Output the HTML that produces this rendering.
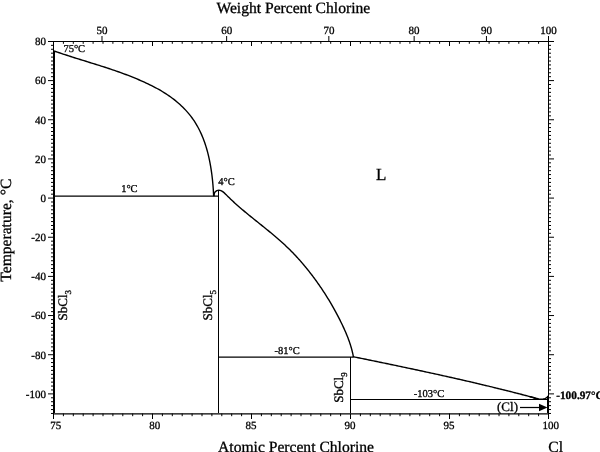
<!DOCTYPE html>
<html><head><meta charset="utf-8"><style>
html,body{margin:0;padding:0;background:#fff;}
svg{display:block;} text{text-rendering:geometricPrecision;}
</style></head><body>
<svg width="600" height="452" viewBox="0 0 600 452">
<rect width="600" height="452" fill="#fff"/>
<g stroke="#000" stroke-width="1" shape-rendering="crispEdges" fill="none">
<line x1="53" y1="41.5" x2="549" y2="41.5"/>
<line x1="53.5" y1="41" x2="53.5" y2="414"/>
<line x1="548.5" y1="41" x2="548.5" y2="414"/>
<line x1="54.5" y1="51" x2="54.5" y2="413"/>
<line x1="547.5" y1="396" x2="547.5" y2="413"/>
<line x1="218.5" y1="190" x2="218.5" y2="413"/>
<line x1="350.5" y1="357" x2="350.5" y2="413"/>
<line x1="351" y1="399.5" x2="548" y2="399.5"/>
</g>
<g stroke="#000" stroke-width="1" fill="none">
<line x1="53.5" y1="413.5" x2="53.5" y2="419"/>
<line x1="63.4" y1="413.5" x2="63.4" y2="416.2"/>
<line x1="63.4" y1="41.5" x2="63.4" y2="43.8"/>
<line x1="73.3" y1="413.5" x2="73.3" y2="416.2"/>
<line x1="73.3" y1="41.5" x2="73.3" y2="43.8"/>
<line x1="83.2" y1="413.5" x2="83.2" y2="416.2"/>
<line x1="83.2" y1="41.5" x2="83.2" y2="43.8"/>
<line x1="93.1" y1="413.5" x2="93.1" y2="416.2"/>
<line x1="93.1" y1="41.5" x2="93.1" y2="43.8"/>
<line x1="103.0" y1="413.5" x2="103.0" y2="416.2"/>
<line x1="103.0" y1="41.5" x2="103.0" y2="43.8"/>
<line x1="112.9" y1="413.5" x2="112.9" y2="416.2"/>
<line x1="112.9" y1="41.5" x2="112.9" y2="43.8"/>
<line x1="122.8" y1="413.5" x2="122.8" y2="416.2"/>
<line x1="122.8" y1="41.5" x2="122.8" y2="43.8"/>
<line x1="132.7" y1="413.5" x2="132.7" y2="416.2"/>
<line x1="132.7" y1="41.5" x2="132.7" y2="43.8"/>
<line x1="142.6" y1="413.5" x2="142.6" y2="416.2"/>
<line x1="142.6" y1="41.5" x2="142.6" y2="43.8"/>
<line x1="152.5" y1="413.5" x2="152.5" y2="419"/>
<line x1="152.5" y1="41.5" x2="152.5" y2="46"/>
<line x1="162.4" y1="413.5" x2="162.4" y2="416.2"/>
<line x1="162.4" y1="41.5" x2="162.4" y2="43.8"/>
<line x1="172.3" y1="413.5" x2="172.3" y2="416.2"/>
<line x1="172.3" y1="41.5" x2="172.3" y2="43.8"/>
<line x1="182.2" y1="413.5" x2="182.2" y2="416.2"/>
<line x1="182.2" y1="41.5" x2="182.2" y2="43.8"/>
<line x1="192.1" y1="413.5" x2="192.1" y2="416.2"/>
<line x1="192.1" y1="41.5" x2="192.1" y2="43.8"/>
<line x1="202.0" y1="413.5" x2="202.0" y2="416.2"/>
<line x1="202.0" y1="41.5" x2="202.0" y2="43.8"/>
<line x1="211.9" y1="413.5" x2="211.9" y2="416.2"/>
<line x1="211.9" y1="41.5" x2="211.9" y2="43.8"/>
<line x1="221.8" y1="413.5" x2="221.8" y2="416.2"/>
<line x1="221.8" y1="41.5" x2="221.8" y2="43.8"/>
<line x1="231.7" y1="413.5" x2="231.7" y2="416.2"/>
<line x1="231.7" y1="41.5" x2="231.7" y2="43.8"/>
<line x1="241.6" y1="413.5" x2="241.6" y2="416.2"/>
<line x1="241.6" y1="41.5" x2="241.6" y2="43.8"/>
<line x1="251.5" y1="413.5" x2="251.5" y2="419"/>
<line x1="251.5" y1="41.5" x2="251.5" y2="46"/>
<line x1="261.4" y1="413.5" x2="261.4" y2="416.2"/>
<line x1="261.4" y1="41.5" x2="261.4" y2="43.8"/>
<line x1="271.3" y1="413.5" x2="271.3" y2="416.2"/>
<line x1="271.3" y1="41.5" x2="271.3" y2="43.8"/>
<line x1="281.2" y1="413.5" x2="281.2" y2="416.2"/>
<line x1="281.2" y1="41.5" x2="281.2" y2="43.8"/>
<line x1="291.1" y1="413.5" x2="291.1" y2="416.2"/>
<line x1="291.1" y1="41.5" x2="291.1" y2="43.8"/>
<line x1="301.0" y1="413.5" x2="301.0" y2="416.2"/>
<line x1="301.0" y1="41.5" x2="301.0" y2="43.8"/>
<line x1="310.9" y1="413.5" x2="310.9" y2="416.2"/>
<line x1="310.9" y1="41.5" x2="310.9" y2="43.8"/>
<line x1="320.8" y1="413.5" x2="320.8" y2="416.2"/>
<line x1="320.8" y1="41.5" x2="320.8" y2="43.8"/>
<line x1="330.7" y1="413.5" x2="330.7" y2="416.2"/>
<line x1="330.7" y1="41.5" x2="330.7" y2="43.8"/>
<line x1="340.6" y1="413.5" x2="340.6" y2="416.2"/>
<line x1="340.6" y1="41.5" x2="340.6" y2="43.8"/>
<line x1="350.5" y1="413.5" x2="350.5" y2="419"/>
<line x1="350.5" y1="41.5" x2="350.5" y2="46"/>
<line x1="360.4" y1="413.5" x2="360.4" y2="416.2"/>
<line x1="360.4" y1="41.5" x2="360.4" y2="43.8"/>
<line x1="370.3" y1="413.5" x2="370.3" y2="416.2"/>
<line x1="370.3" y1="41.5" x2="370.3" y2="43.8"/>
<line x1="380.2" y1="413.5" x2="380.2" y2="416.2"/>
<line x1="380.2" y1="41.5" x2="380.2" y2="43.8"/>
<line x1="390.1" y1="413.5" x2="390.1" y2="416.2"/>
<line x1="390.1" y1="41.5" x2="390.1" y2="43.8"/>
<line x1="400.0" y1="413.5" x2="400.0" y2="416.2"/>
<line x1="400.0" y1="41.5" x2="400.0" y2="43.8"/>
<line x1="409.9" y1="413.5" x2="409.9" y2="416.2"/>
<line x1="409.9" y1="41.5" x2="409.9" y2="43.8"/>
<line x1="419.8" y1="413.5" x2="419.8" y2="416.2"/>
<line x1="419.8" y1="41.5" x2="419.8" y2="43.8"/>
<line x1="429.7" y1="413.5" x2="429.7" y2="416.2"/>
<line x1="429.7" y1="41.5" x2="429.7" y2="43.8"/>
<line x1="439.6" y1="413.5" x2="439.6" y2="416.2"/>
<line x1="439.6" y1="41.5" x2="439.6" y2="43.8"/>
<line x1="449.5" y1="413.5" x2="449.5" y2="419"/>
<line x1="449.5" y1="41.5" x2="449.5" y2="46"/>
<line x1="459.4" y1="413.5" x2="459.4" y2="416.2"/>
<line x1="459.4" y1="41.5" x2="459.4" y2="43.8"/>
<line x1="469.3" y1="413.5" x2="469.3" y2="416.2"/>
<line x1="469.3" y1="41.5" x2="469.3" y2="43.8"/>
<line x1="479.2" y1="413.5" x2="479.2" y2="416.2"/>
<line x1="479.2" y1="41.5" x2="479.2" y2="43.8"/>
<line x1="489.1" y1="413.5" x2="489.1" y2="416.2"/>
<line x1="489.1" y1="41.5" x2="489.1" y2="43.8"/>
<line x1="499.0" y1="413.5" x2="499.0" y2="416.2"/>
<line x1="499.0" y1="41.5" x2="499.0" y2="43.8"/>
<line x1="508.9" y1="413.5" x2="508.9" y2="416.2"/>
<line x1="508.9" y1="41.5" x2="508.9" y2="43.8"/>
<line x1="518.8" y1="413.5" x2="518.8" y2="416.2"/>
<line x1="518.8" y1="41.5" x2="518.8" y2="43.8"/>
<line x1="528.7" y1="413.5" x2="528.7" y2="416.2"/>
<line x1="528.7" y1="41.5" x2="528.7" y2="43.8"/>
<line x1="538.6" y1="413.5" x2="538.6" y2="416.2"/>
<line x1="538.6" y1="41.5" x2="538.6" y2="43.8"/>
<line x1="548.5" y1="413.5" x2="548.5" y2="419"/>
<line x1="101.99150515542635" y1="41.5" x2="101.99150515542635" y2="36"/>
<line x1="226.6329983080612" y1="41.5" x2="226.6329983080612" y2="36"/>
<line x1="328.8322905790152" y1="41.5" x2="328.8322905790152" y2="36"/>
<line x1="414.14998956923824" y1="41.5" x2="414.14998956923824" y2="36"/>
<line x1="486.4498149462606" y1="41.5" x2="486.4498149462606" y2="36"/>
<line x1="548.5000000000002" y1="41.5" x2="548.5000000000002" y2="36"/>
<line x1="53.5" y1="413.46" x2="51" y2="413.46"/>
<line x1="548.5" y1="413.46" x2="551" y2="413.46"/>
<line x1="53.5" y1="409.544" x2="51" y2="409.544"/>
<line x1="548.5" y1="409.544" x2="551" y2="409.544"/>
<line x1="53.5" y1="405.628" x2="51" y2="405.628"/>
<line x1="548.5" y1="405.628" x2="551" y2="405.628"/>
<line x1="53.5" y1="401.712" x2="51" y2="401.712"/>
<line x1="548.5" y1="401.712" x2="551" y2="401.712"/>
<line x1="53.5" y1="397.796" x2="51" y2="397.796"/>
<line x1="548.5" y1="397.796" x2="551" y2="397.796"/>
<line x1="53.5" y1="393.88" x2="48" y2="393.88"/>
<line x1="548.5" y1="393.88" x2="554" y2="393.88"/>
<line x1="53.5" y1="389.964" x2="51" y2="389.964"/>
<line x1="548.5" y1="389.964" x2="551" y2="389.964"/>
<line x1="53.5" y1="386.048" x2="51" y2="386.048"/>
<line x1="548.5" y1="386.048" x2="551" y2="386.048"/>
<line x1="53.5" y1="382.132" x2="51" y2="382.132"/>
<line x1="548.5" y1="382.132" x2="551" y2="382.132"/>
<line x1="53.5" y1="378.216" x2="51" y2="378.216"/>
<line x1="548.5" y1="378.216" x2="551" y2="378.216"/>
<line x1="53.5" y1="374.3" x2="51" y2="374.3"/>
<line x1="548.5" y1="374.3" x2="551" y2="374.3"/>
<line x1="53.5" y1="370.384" x2="51" y2="370.384"/>
<line x1="548.5" y1="370.384" x2="551" y2="370.384"/>
<line x1="53.5" y1="366.468" x2="51" y2="366.468"/>
<line x1="548.5" y1="366.468" x2="551" y2="366.468"/>
<line x1="53.5" y1="362.55199999999996" x2="51" y2="362.55199999999996"/>
<line x1="548.5" y1="362.55199999999996" x2="551" y2="362.55199999999996"/>
<line x1="53.5" y1="358.63599999999997" x2="51" y2="358.63599999999997"/>
<line x1="548.5" y1="358.63599999999997" x2="551" y2="358.63599999999997"/>
<line x1="53.5" y1="354.71999999999997" x2="48" y2="354.71999999999997"/>
<line x1="548.5" y1="354.71999999999997" x2="554" y2="354.71999999999997"/>
<line x1="53.5" y1="350.804" x2="51" y2="350.804"/>
<line x1="548.5" y1="350.804" x2="551" y2="350.804"/>
<line x1="53.5" y1="346.888" x2="51" y2="346.888"/>
<line x1="548.5" y1="346.888" x2="551" y2="346.888"/>
<line x1="53.5" y1="342.972" x2="51" y2="342.972"/>
<line x1="548.5" y1="342.972" x2="551" y2="342.972"/>
<line x1="53.5" y1="339.056" x2="51" y2="339.056"/>
<line x1="548.5" y1="339.056" x2="551" y2="339.056"/>
<line x1="53.5" y1="335.14" x2="51" y2="335.14"/>
<line x1="548.5" y1="335.14" x2="551" y2="335.14"/>
<line x1="53.5" y1="331.224" x2="51" y2="331.224"/>
<line x1="548.5" y1="331.224" x2="551" y2="331.224"/>
<line x1="53.5" y1="327.308" x2="51" y2="327.308"/>
<line x1="548.5" y1="327.308" x2="551" y2="327.308"/>
<line x1="53.5" y1="323.392" x2="51" y2="323.392"/>
<line x1="548.5" y1="323.392" x2="551" y2="323.392"/>
<line x1="53.5" y1="319.476" x2="51" y2="319.476"/>
<line x1="548.5" y1="319.476" x2="551" y2="319.476"/>
<line x1="53.5" y1="315.56" x2="48" y2="315.56"/>
<line x1="548.5" y1="315.56" x2="554" y2="315.56"/>
<line x1="53.5" y1="311.644" x2="51" y2="311.644"/>
<line x1="548.5" y1="311.644" x2="551" y2="311.644"/>
<line x1="53.5" y1="307.728" x2="51" y2="307.728"/>
<line x1="548.5" y1="307.728" x2="551" y2="307.728"/>
<line x1="53.5" y1="303.812" x2="51" y2="303.812"/>
<line x1="548.5" y1="303.812" x2="551" y2="303.812"/>
<line x1="53.5" y1="299.896" x2="51" y2="299.896"/>
<line x1="548.5" y1="299.896" x2="551" y2="299.896"/>
<line x1="53.5" y1="295.98" x2="51" y2="295.98"/>
<line x1="548.5" y1="295.98" x2="551" y2="295.98"/>
<line x1="53.5" y1="292.06399999999996" x2="51" y2="292.06399999999996"/>
<line x1="548.5" y1="292.06399999999996" x2="551" y2="292.06399999999996"/>
<line x1="53.5" y1="288.148" x2="51" y2="288.148"/>
<line x1="548.5" y1="288.148" x2="551" y2="288.148"/>
<line x1="53.5" y1="284.23199999999997" x2="51" y2="284.23199999999997"/>
<line x1="548.5" y1="284.23199999999997" x2="551" y2="284.23199999999997"/>
<line x1="53.5" y1="280.31600000000003" x2="51" y2="280.31600000000003"/>
<line x1="548.5" y1="280.31600000000003" x2="551" y2="280.31600000000003"/>
<line x1="53.5" y1="276.4" x2="48" y2="276.4"/>
<line x1="548.5" y1="276.4" x2="554" y2="276.4"/>
<line x1="53.5" y1="272.484" x2="51" y2="272.484"/>
<line x1="548.5" y1="272.484" x2="551" y2="272.484"/>
<line x1="53.5" y1="268.568" x2="51" y2="268.568"/>
<line x1="548.5" y1="268.568" x2="551" y2="268.568"/>
<line x1="53.5" y1="264.652" x2="51" y2="264.652"/>
<line x1="548.5" y1="264.652" x2="551" y2="264.652"/>
<line x1="53.5" y1="260.736" x2="51" y2="260.736"/>
<line x1="548.5" y1="260.736" x2="551" y2="260.736"/>
<line x1="53.5" y1="256.82" x2="51" y2="256.82"/>
<line x1="548.5" y1="256.82" x2="551" y2="256.82"/>
<line x1="53.5" y1="252.904" x2="51" y2="252.904"/>
<line x1="548.5" y1="252.904" x2="551" y2="252.904"/>
<line x1="53.5" y1="248.988" x2="51" y2="248.988"/>
<line x1="548.5" y1="248.988" x2="551" y2="248.988"/>
<line x1="53.5" y1="245.072" x2="51" y2="245.072"/>
<line x1="548.5" y1="245.072" x2="551" y2="245.072"/>
<line x1="53.5" y1="241.156" x2="51" y2="241.156"/>
<line x1="548.5" y1="241.156" x2="551" y2="241.156"/>
<line x1="53.5" y1="237.23999999999998" x2="48" y2="237.23999999999998"/>
<line x1="548.5" y1="237.23999999999998" x2="554" y2="237.23999999999998"/>
<line x1="53.5" y1="233.32399999999998" x2="51" y2="233.32399999999998"/>
<line x1="548.5" y1="233.32399999999998" x2="551" y2="233.32399999999998"/>
<line x1="53.5" y1="229.408" x2="51" y2="229.408"/>
<line x1="548.5" y1="229.408" x2="551" y2="229.408"/>
<line x1="53.5" y1="225.492" x2="51" y2="225.492"/>
<line x1="548.5" y1="225.492" x2="551" y2="225.492"/>
<line x1="53.5" y1="221.576" x2="51" y2="221.576"/>
<line x1="548.5" y1="221.576" x2="551" y2="221.576"/>
<line x1="53.5" y1="217.66" x2="51" y2="217.66"/>
<line x1="548.5" y1="217.66" x2="551" y2="217.66"/>
<line x1="53.5" y1="213.744" x2="51" y2="213.744"/>
<line x1="548.5" y1="213.744" x2="551" y2="213.744"/>
<line x1="53.5" y1="209.828" x2="51" y2="209.828"/>
<line x1="548.5" y1="209.828" x2="551" y2="209.828"/>
<line x1="53.5" y1="205.912" x2="51" y2="205.912"/>
<line x1="548.5" y1="205.912" x2="551" y2="205.912"/>
<line x1="53.5" y1="201.99599999999998" x2="51" y2="201.99599999999998"/>
<line x1="548.5" y1="201.99599999999998" x2="551" y2="201.99599999999998"/>
<line x1="53.5" y1="198.07999999999998" x2="48" y2="198.07999999999998"/>
<line x1="548.5" y1="198.07999999999998" x2="554" y2="198.07999999999998"/>
<line x1="53.5" y1="194.164" x2="51" y2="194.164"/>
<line x1="548.5" y1="194.164" x2="551" y2="194.164"/>
<line x1="53.5" y1="190.248" x2="51" y2="190.248"/>
<line x1="548.5" y1="190.248" x2="551" y2="190.248"/>
<line x1="53.5" y1="186.332" x2="51" y2="186.332"/>
<line x1="548.5" y1="186.332" x2="551" y2="186.332"/>
<line x1="53.5" y1="182.416" x2="51" y2="182.416"/>
<line x1="548.5" y1="182.416" x2="551" y2="182.416"/>
<line x1="53.5" y1="178.5" x2="51" y2="178.5"/>
<line x1="548.5" y1="178.5" x2="551" y2="178.5"/>
<line x1="53.5" y1="174.584" x2="51" y2="174.584"/>
<line x1="548.5" y1="174.584" x2="551" y2="174.584"/>
<line x1="53.5" y1="170.668" x2="51" y2="170.668"/>
<line x1="548.5" y1="170.668" x2="551" y2="170.668"/>
<line x1="53.5" y1="166.752" x2="51" y2="166.752"/>
<line x1="548.5" y1="166.752" x2="551" y2="166.752"/>
<line x1="53.5" y1="162.836" x2="51" y2="162.836"/>
<line x1="548.5" y1="162.836" x2="551" y2="162.836"/>
<line x1="53.5" y1="158.92000000000002" x2="48" y2="158.92000000000002"/>
<line x1="548.5" y1="158.92000000000002" x2="554" y2="158.92000000000002"/>
<line x1="53.5" y1="155.004" x2="51" y2="155.004"/>
<line x1="548.5" y1="155.004" x2="551" y2="155.004"/>
<line x1="53.5" y1="151.088" x2="51" y2="151.088"/>
<line x1="548.5" y1="151.088" x2="551" y2="151.088"/>
<line x1="53.5" y1="147.172" x2="51" y2="147.172"/>
<line x1="548.5" y1="147.172" x2="551" y2="147.172"/>
<line x1="53.5" y1="143.256" x2="51" y2="143.256"/>
<line x1="548.5" y1="143.256" x2="551" y2="143.256"/>
<line x1="53.5" y1="139.33999999999997" x2="51" y2="139.33999999999997"/>
<line x1="548.5" y1="139.33999999999997" x2="551" y2="139.33999999999997"/>
<line x1="53.5" y1="135.42399999999998" x2="51" y2="135.42399999999998"/>
<line x1="548.5" y1="135.42399999999998" x2="551" y2="135.42399999999998"/>
<line x1="53.5" y1="131.50799999999998" x2="51" y2="131.50799999999998"/>
<line x1="548.5" y1="131.50799999999998" x2="551" y2="131.50799999999998"/>
<line x1="53.5" y1="127.592" x2="51" y2="127.592"/>
<line x1="548.5" y1="127.592" x2="551" y2="127.592"/>
<line x1="53.5" y1="123.676" x2="51" y2="123.676"/>
<line x1="548.5" y1="123.676" x2="551" y2="123.676"/>
<line x1="53.5" y1="119.75999999999999" x2="48" y2="119.75999999999999"/>
<line x1="548.5" y1="119.75999999999999" x2="554" y2="119.75999999999999"/>
<line x1="53.5" y1="115.844" x2="51" y2="115.844"/>
<line x1="548.5" y1="115.844" x2="551" y2="115.844"/>
<line x1="53.5" y1="111.928" x2="51" y2="111.928"/>
<line x1="548.5" y1="111.928" x2="551" y2="111.928"/>
<line x1="53.5" y1="108.012" x2="51" y2="108.012"/>
<line x1="548.5" y1="108.012" x2="551" y2="108.012"/>
<line x1="53.5" y1="104.096" x2="51" y2="104.096"/>
<line x1="548.5" y1="104.096" x2="551" y2="104.096"/>
<line x1="53.5" y1="100.18" x2="51" y2="100.18"/>
<line x1="548.5" y1="100.18" x2="551" y2="100.18"/>
<line x1="53.5" y1="96.264" x2="51" y2="96.264"/>
<line x1="548.5" y1="96.264" x2="551" y2="96.264"/>
<line x1="53.5" y1="92.348" x2="51" y2="92.348"/>
<line x1="548.5" y1="92.348" x2="551" y2="92.348"/>
<line x1="53.5" y1="88.43199999999999" x2="51" y2="88.43199999999999"/>
<line x1="548.5" y1="88.43199999999999" x2="551" y2="88.43199999999999"/>
<line x1="53.5" y1="84.51599999999999" x2="51" y2="84.51599999999999"/>
<line x1="548.5" y1="84.51599999999999" x2="551" y2="84.51599999999999"/>
<line x1="53.5" y1="80.6" x2="48" y2="80.6"/>
<line x1="548.5" y1="80.6" x2="554" y2="80.6"/>
<line x1="53.5" y1="76.684" x2="51" y2="76.684"/>
<line x1="548.5" y1="76.684" x2="551" y2="76.684"/>
<line x1="53.5" y1="72.768" x2="51" y2="72.768"/>
<line x1="548.5" y1="72.768" x2="551" y2="72.768"/>
<line x1="53.5" y1="68.852" x2="51" y2="68.852"/>
<line x1="548.5" y1="68.852" x2="551" y2="68.852"/>
<line x1="53.5" y1="64.93599999999999" x2="51" y2="64.93599999999999"/>
<line x1="548.5" y1="64.93599999999999" x2="551" y2="64.93599999999999"/>
<line x1="53.5" y1="61.019999999999996" x2="51" y2="61.019999999999996"/>
<line x1="548.5" y1="61.019999999999996" x2="551" y2="61.019999999999996"/>
<line x1="53.5" y1="57.104" x2="51" y2="57.104"/>
<line x1="548.5" y1="57.104" x2="551" y2="57.104"/>
<line x1="53.5" y1="53.187999999999995" x2="51" y2="53.187999999999995"/>
<line x1="548.5" y1="53.187999999999995" x2="551" y2="53.187999999999995"/>
<line x1="53.5" y1="49.272" x2="51" y2="49.272"/>
<line x1="548.5" y1="49.272" x2="551" y2="49.272"/>
<line x1="53.5" y1="45.355999999999995" x2="51" y2="45.355999999999995"/>
<line x1="548.5" y1="45.355999999999995" x2="551" y2="45.355999999999995"/>
<line x1="53" y1="41.5" x2="48" y2="41.5"/>
<line x1="549" y1="41.5" x2="554" y2="41.5"/>
</g>
<g stroke="#000" stroke-width="1.25" fill="none">
<line x1="53" y1="413.8" x2="549" y2="413.8"/>
<line x1="54" y1="196.0" x2="218" y2="196.0"/>
<line x1="219" y1="357.0" x2="353" y2="357.0"/>
<line x1="520" y1="407.5" x2="540" y2="407.5"/>
</g>
<g stroke="#000" stroke-width="1.4" fill="none" stroke-linejoin="round" stroke-linecap="round">
<path d="M53.60,50.81 L55.48,51.47 L57.37,52.12 L59.27,52.77 L61.16,53.41 L63.05,54.04 L64.95,54.66 L66.85,55.28 L68.75,55.89 L70.66,56.50 L72.56,57.11 L74.46,57.71 L76.37,58.31 L78.28,58.91 L80.18,59.50 L82.09,60.09 L84.00,60.69 L85.91,61.28 L87.82,61.87 L89.73,62.46 L91.63,63.06 L93.54,63.65 L95.45,64.25 L97.36,64.85 L99.26,65.45 L101.17,66.06 L103.07,66.67 L104.97,67.29 L106.88,67.91 L108.78,68.53 L110.67,69.17 L112.57,69.81 L114.46,70.45 L116.35,71.11 L118.24,71.77 L120.13,72.44 L122.02,73.12 L123.90,73.81 L125.77,74.51 L127.65,75.22 L129.52,75.94 L131.39,76.68 L133.26,77.42 L135.12,78.18 L136.98,78.96 L138.83,79.74 L140.68,80.54 L142.52,81.36 L144.36,82.19 L146.20,83.03 L148.03,83.90 L149.85,84.78 L151.66,85.68 L153.46,86.60 L155.25,87.54 L157.03,88.50 L158.80,89.48 L160.55,90.48 L162.28,91.51 L164.00,92.56 L165.70,93.63 L167.38,94.73 L169.05,95.86 L170.68,97.02 L172.30,98.20 L173.89,99.41 L175.46,100.65 L177.01,101.92 L178.52,103.22 L180.01,104.54 L181.47,105.90 L182.89,107.28 L184.29,108.69 L185.65,110.13 L186.98,111.60 L188.28,113.10 L189.54,114.62 L190.76,116.17 L191.95,117.75 L193.09,119.35 L194.20,120.98 L195.26,122.64 L196.29,124.32 L197.28,126.03 L198.23,127.76 L199.14,129.51 L200.02,131.29 L200.87,133.08 L201.68,134.89 L202.45,136.72 L203.20,138.57 L203.91,140.44 L204.59,142.32 L205.23,144.22 L205.85,146.13 L206.44,148.05 L207.00,149.98 L207.53,151.93 L208.04,153.89 L208.52,155.85 L208.97,157.82 L209.40,159.80 L209.80,161.79 L210.18,163.78 L210.54,165.77 L210.87,167.77 L211.19,169.77 L211.48,171.78 L211.75,173.78 L212.01,175.78 L212.24,177.78 L212.46,179.78 L212.66,181.78 L212.84,183.77 L213.01,185.76 L213.16,187.74 L213.30,189.71 L213.42,191.68 L213.53,193.63 L213.63,195.58"/>
<path d="M214.13,195.67 L214.11,194.33 L214.43,193.13 L215.03,192.10 L215.84,191.28 L216.81,190.70 L217.86,190.37 L218.92,190.26 L219.93,190.37 L220.90,190.65 L221.84,191.10 L222.75,191.67 L223.63,192.35 L224.50,193.12 L225.35,193.93 L226.20,194.78 L227.04,195.63 L227.88,196.47 L228.73,197.30 L229.58,198.12 L230.42,198.94 L231.27,199.74 L232.12,200.55 L232.97,201.34 L233.83,202.12 L234.68,202.90 L235.53,203.68 L236.39,204.44 L237.24,205.21 L238.10,205.96 L238.96,206.71 L239.82,207.46 L240.68,208.20 L241.54,208.94 L242.40,209.67 L243.27,210.40 L244.13,211.13 L245.00,211.85 L245.87,212.57 L246.74,213.29 L247.61,214.01 L248.48,214.72 L249.36,215.43 L250.23,216.14 L251.11,216.85 L251.99,217.56 L252.87,218.27 L253.75,218.98 L254.63,219.69 L255.51,220.40 L256.40,221.11 L257.28,221.82 L258.17,222.53 L259.06,223.24 L259.94,223.95 L260.83,224.66 L261.72,225.37 L262.61,226.09 L263.50,226.80 L264.39,227.52 L265.27,228.24 L266.16,228.96 L267.05,229.68 L267.93,230.40 L268.82,231.12 L269.70,231.85 L270.58,232.58 L271.46,233.31 L272.34,234.04 L273.22,234.77 L274.10,235.51 L274.97,236.25 L275.84,236.99 L276.71,237.74 L277.58,238.48 L278.44,239.23 L279.30,239.99 L280.16,240.75 L281.01,241.51 L281.86,242.27 L282.71,243.04 L283.56,243.81 L284.40,244.58 L285.24,245.36 L286.07,246.14 L286.90,246.93 L287.72,247.72 L288.54,248.51 L289.36,249.31 L290.17,250.11 L290.98,250.92 L291.78,251.73 L292.58,252.54 L293.37,253.36 L294.16,254.18 L294.95,255.01 L295.73,255.84 L296.50,256.68 L297.27,257.51 L298.04,258.36 L298.81,259.20 L299.57,260.05 L300.32,260.91 L301.07,261.76 L301.82,262.62 L302.56,263.49 L303.30,264.35 L304.04,265.22 L304.77,266.10 L305.49,266.98 L306.22,267.86 L306.94,268.74 L307.65,269.63 L308.36,270.52 L309.07,271.41 L309.77,272.31 L310.47,273.21 L311.17,274.11 L311.86,275.01 L312.55,275.92 L313.23,276.83 L313.91,277.75 L314.59,278.66 L315.26,279.58 L315.93,280.51 L316.60,281.43 L317.26,282.36 L317.92,283.29 L318.58,284.22 L319.23,285.16 L319.88,286.09 L320.52,287.03 L321.16,287.98 L321.80,288.92 L322.43,289.87 L323.06,290.82 L323.68,291.77 L324.31,292.73 L324.92,293.69 L325.54,294.65 L326.15,295.61 L326.75,296.57 L327.36,297.54 L327.96,298.51 L328.55,299.48 L329.14,300.46 L329.73,301.44 L330.31,302.42 L330.89,303.40 L331.47,304.38 L332.04,305.37 L332.60,306.36 L333.17,307.35 L333.73,308.34 L334.28,309.34 L334.83,310.33 L335.38,311.33 L335.93,312.33 L336.46,313.34 L337.00,314.34 L337.53,315.35 L338.06,316.36 L338.58,317.37 L339.10,318.39 L339.62,319.41 L340.13,320.42 L340.63,321.44 L341.14,322.47 L341.64,323.49 L342.13,324.52 L342.62,325.55 L343.11,326.58 L343.59,327.61 L344.06,328.65 L344.53,329.68 L344.99,330.72 L345.45,331.77 L345.90,332.81 L346.34,333.86 L346.78,334.91 L347.21,335.97 L347.62,337.03 L348.04,338.09 L348.44,339.15 L348.83,340.22 L349.21,341.29 L349.59,342.36 L349.95,343.44 L350.30,344.53 L350.64,345.61 L350.97,346.70 L351.29,347.80 L351.60,348.90 L351.89,350.00 L352.17,351.11 L352.44,352.22 L352.70,353.34 L352.94,354.46 L353.16,355.59 L353.37,356.72"/>
<path d="M353.39,356.75 L354.95,357.07 L356.51,357.39 L358.07,357.71 L359.63,358.03 L361.18,358.35 L362.74,358.67 L364.30,358.99 L365.86,359.31 L367.42,359.63 L368.98,359.95 L370.54,360.27 L372.10,360.59 L373.65,360.91 L375.21,361.23 L376.77,361.55 L378.33,361.88 L379.89,362.20 L381.45,362.52 L383.00,362.84 L384.56,363.17 L386.12,363.49 L387.68,363.81 L389.24,364.14 L390.79,364.46 L392.35,364.79 L393.91,365.11 L395.47,365.44 L397.02,365.77 L398.58,366.09 L400.14,366.42 L401.70,366.75 L403.25,367.08 L404.81,367.40 L406.37,367.73 L407.92,368.06 L409.48,368.39 L411.04,368.72 L412.59,369.05 L414.15,369.39 L415.71,369.72 L417.26,370.05 L418.82,370.38 L420.38,370.72 L421.93,371.05 L423.49,371.39 L425.04,371.72 L426.60,372.06 L428.15,372.40 L429.71,372.74 L431.26,373.07 L432.82,373.41 L434.37,373.75 L435.93,374.09 L437.48,374.44 L439.03,374.78 L440.59,375.12 L442.14,375.46 L443.70,375.81 L445.25,376.15 L446.80,376.50 L448.36,376.85 L449.91,377.20 L451.46,377.54 L453.01,377.89 L454.57,378.24 L456.12,378.60 L457.67,378.95 L459.22,379.30 L460.77,379.65 L462.32,380.01 L463.87,380.36 L465.43,380.72 L466.98,381.08 L468.53,381.44 L470.08,381.80 L471.63,382.16 L473.18,382.52 L474.73,382.88 L476.27,383.25 L477.82,383.61 L479.37,383.98 L480.92,384.34 L482.47,384.71 L484.02,385.08 L485.56,385.45 L487.11,385.82 L488.66,386.19 L490.21,386.57 L491.75,386.94 L493.30,387.32 L494.84,387.70 L496.39,388.07 L497.94,388.45 L499.48,388.83 L501.03,389.22 L502.57,389.60 L504.11,389.98 L505.66,390.37 L507.20,390.76 L508.75,391.14 L510.29,391.53 L511.83,391.93 L513.37,392.32 L514.92,392.71 L516.46,393.11 L518.00,393.50 L519.54,393.90 L521.08,394.30 L522.62,394.70 L524.16,395.10 L525.70,395.50 L527.24,395.91 L528.78,396.31 L530.32,396.72 L531.86,397.13 L533.39,397.54 L534.93,397.95 L536.47,398.37 L538.01,398.78"/>
<path d="M530.01,396.60 L530.60,396.79 L531.19,396.99 L531.81,397.19 L532.43,397.40 L533.05,397.61 L533.69,397.81 L534.33,398.01 L534.98,398.21 L535.64,398.39 L536.29,398.56 L536.95,398.72 L537.62,398.86 L538.28,398.98 L538.94,399.08 L539.59,399.16 L540.25,399.20 L540.90,399.22 L541.55,399.21 L542.19,399.16 L542.82,399.08 L543.45,398.96 L544.06,398.79 L544.66,398.59 L545.26,398.33 L545.84,398.03 L546.41,397.68 L546.96,397.27 L547.49,396.81 L548.01,396.29"/>
</g>
<path d="M539,403.8 L547.5,407.5 L539,411.2 Z" fill="#000"/>
<g font-family="Liberation Serif, serif" fill="#000" stroke="#000" stroke-width="0.3">
<text x="102" y="33.8" font-size="11" text-anchor="middle" >50</text>
<text x="226.75" y="33.8" font-size="11" text-anchor="middle" >60</text>
<text x="329" y="33.8" font-size="11" text-anchor="middle" >70</text>
<text x="414.1" y="33.8" font-size="11" text-anchor="middle" >80</text>
<text x="486.5" y="33.8" font-size="11" text-anchor="middle" >90</text>
<text x="548.6" y="33.8" font-size="11" text-anchor="middle" >100</text>
<text x="55.75" y="429" font-size="11" text-anchor="middle" >75</text>
<text x="154.75" y="429" font-size="11" text-anchor="middle" >80</text>
<text x="251" y="429" font-size="11" text-anchor="middle" >85</text>
<text x="350" y="429" font-size="11" text-anchor="middle" >90</text>
<text x="449" y="429" font-size="11" text-anchor="middle" >95</text>
<text x="550.85" y="429" font-size="11" text-anchor="middle" >100</text>
<text x="45.9" y="45.3" font-size="11" text-anchor="end" >80</text>
<text x="45.9" y="84.4578947368421" font-size="11" text-anchor="end" >60</text>
<text x="45.9" y="123.6157894736842" font-size="11" text-anchor="end" >40</text>
<text x="45.9" y="162.7736842105263" font-size="11" text-anchor="end" >20</text>
<text x="45.9" y="201.93157894736842" font-size="11" text-anchor="end" >0</text>
<text x="45.9" y="241.08947368421053" font-size="11" text-anchor="end" >-20</text>
<text x="45.9" y="280.2473684210526" font-size="11" text-anchor="end" >-40</text>
<text x="45.9" y="319.40526315789475" font-size="11" text-anchor="end" >-60</text>
<text x="45.9" y="358.56315789473683" font-size="11" text-anchor="end" >-80</text>
<text x="45.9" y="397.72105263157897" font-size="11" text-anchor="end" >-100</text>
<text x="63.4" y="52.4" font-size="10.5" text-anchor="start" >75°C</text>
<text x="129.4" y="192.2" font-size="10.5" text-anchor="middle" >1°C</text>
<text x="218.2" y="185.0" font-size="10.5" text-anchor="start" >4°C</text>
<text x="287.2" y="354.4" font-size="10.5" text-anchor="middle" >-81°C</text>
<text x="429.1" y="396.6" font-size="10.5" text-anchor="middle" >-103°C</text>
<text x="556.2" y="399.1" font-size="11.3" text-anchor="start" font-weight="bold">-100.97°C</text>
<text x="381.2" y="180.1" font-size="17" text-anchor="middle" >L</text>
<text x="507.5" y="411" font-size="13" text-anchor="middle" >(Cl)</text>
<text x="293.3" y="12.6" font-size="15.6" text-anchor="middle" >Weight Percent Chlorine</text>
<text x="296" y="451.8" font-size="15.6" text-anchor="middle" >Atomic Percent Chlorine</text>
<text x="555.7" y="451.6" font-size="15.6" text-anchor="middle" >Cl</text>
<text transform="translate(10.8,230.2) rotate(-90)" font-size="15.6" text-anchor="middle">Temperature, °C</text>
<text transform="translate(67,320.5) rotate(-90)" font-size="13">SbCl<tspan font-size="9" dy="4">3</tspan></text>
<text transform="translate(211.6,320.5) rotate(-90)" font-size="13">SbCl<tspan font-size="9" dy="4">5</tspan></text>
<text transform="translate(342.6,402.8) rotate(-90)" font-size="13">SbCl<tspan font-size="9" dy="4">9</tspan></text>
</g>
</svg></body></html>
